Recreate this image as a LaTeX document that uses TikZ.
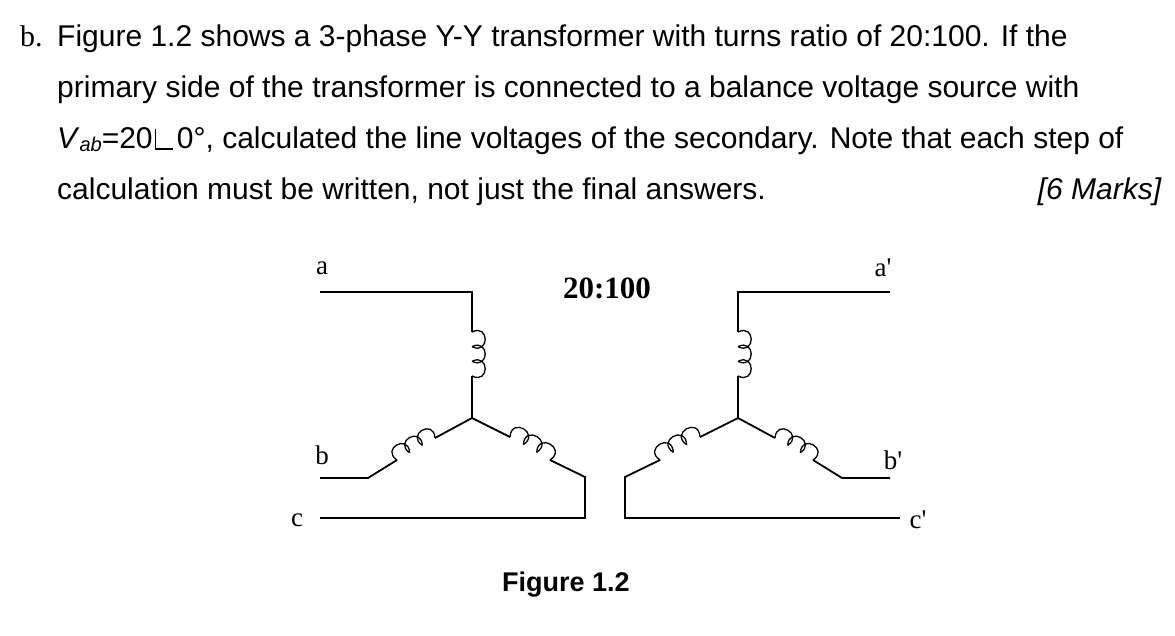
\documentclass[tikz,border=0pt]{standalone}
\usepackage{fontspec}
\setmainfont{Liberation Sans}
\newfontfamily\serif{Liberation Serif}
\newcommand\mycoil[5]{%
 \foreach \k in {0,1,2}{%
  \draw[coilline] ({#1+(\k/3)*(#3-#1)},{#2+(\k/3)*(#4-#2)})
   .. controls ({#1+((\k-0.6)/3)*(#3-#1)+1.2*#5*(-(#4-#2))/3},{#2+((\k-0.6)/3)*(#4-#2)+1.2*#5*(#3-#1)/3})
   and ({#1+((\k+1.6)/3)*(#3-#1)+1.2*#5*(-(#4-#2))/3},{#2+((\k+1.6)/3)*(#4-#2)+1.2*#5*(#3-#1)/3})
   .. ({#1+((\k+1)/3)*(#3-#1)},{#2+((\k+1)/3)*(#4-#2)});
 }}
\begin{document}
\begin{tikzpicture}[x=1pt,y=-1pt,
  txt/.style={anchor=base west,font=\fontsize{30}{36}\selectfont,inner sep=0},
  lbl/.style={font=\serif\fontsize{27}{30}\selectfont,inner sep=0},
  wire/.style={line width=1.8pt},
  coilline/.style={line width=1.3pt}]
\useasboundingbox (0,0) rectangle (1175,636);
\node[txt,font=\serif\fontsize{30}{36}\selectfont] (b0) at (20,47) {b.};
\node[txt] (l1) at (57,47) {Figure 1.2 shows a 3-phase Y-Y transformer with turns ratio of 20:100. If the};
\node[txt] (l2) at (57,98) {primary side of the transformer is connected to a balance voltage source with};
\node[txt] (l3) at (57,149) {\textit{V}{\fontsize{20}{24}\selectfont\raisebox{-3pt}{\textit{ab}}}=20\hspace{2pt}\tikz[baseline]{\draw[line width=1.3pt](0,20pt)--(0,0)--(18pt,0);}\hspace{3pt}0°, calculated the line voltages of the secondary. Note that each step of};
\node[txt] (l4) at (57,200) {calculation must be written, not just the final answers.};
\node[txt,anchor=base east] (mk) at (1162,200) {\textit{[6 Marks]}};
% left star
\coordinate (N) at (472,418);
\draw[wire] (320,292) -- (472,292) -- (472,332);
\mycoil{472}{332}{472}{376}{-1}
\draw[wire] (472,376) -- (N) -- (435,438);
\mycoil{435}{438}{397}{460}{1}
\draw[wire] (397,460) -- (368,478) -- (320,478);
\draw[wire] (N) -- (510,437);
\mycoil{510}{437}{550}{460}{-1}
\draw[wire] (550,460) -- (585,477) -- (585,518) -- (320,518);
% right star
\coordinate (M) at (738,418);
\draw[wire] (890,292) -- (738,292) -- (738,332);
\mycoil{738}{332}{738}{376}{-1}
\draw[wire] (738,376) -- (M) -- (775,438);
\mycoil{775}{438}{813}{460}{-1}
\draw[wire] (813,460) -- (842,478) -- (890,478);
\draw[wire] (M) -- (700,437);
\mycoil{700}{437}{660}{460}{1}
\draw[wire] (660,460) -- (625,477) -- (625,518) -- (900,518);
\node[lbl] (la) at (322,268) {a};
\node[lbl] (lb) at (322,455) {b};
\node[lbl] (lc) at (297,520) {c};
\node[lbl] (la2) at (883,268) {a'};
\node[lbl] (lb2) at (893,460) {b'};
\node[lbl] (lc2) at (918,520) {c'};
\node[lbl,font=\serif\bfseries\fontsize{31}{36}\selectfont] (r) at (607,288) {20:100};
\node[inner sep=0,font=\bfseries\fontsize{27}{32}\selectfont] (fg) at (566,585) {Figure 1.2};
\end{tikzpicture}
\end{document}
